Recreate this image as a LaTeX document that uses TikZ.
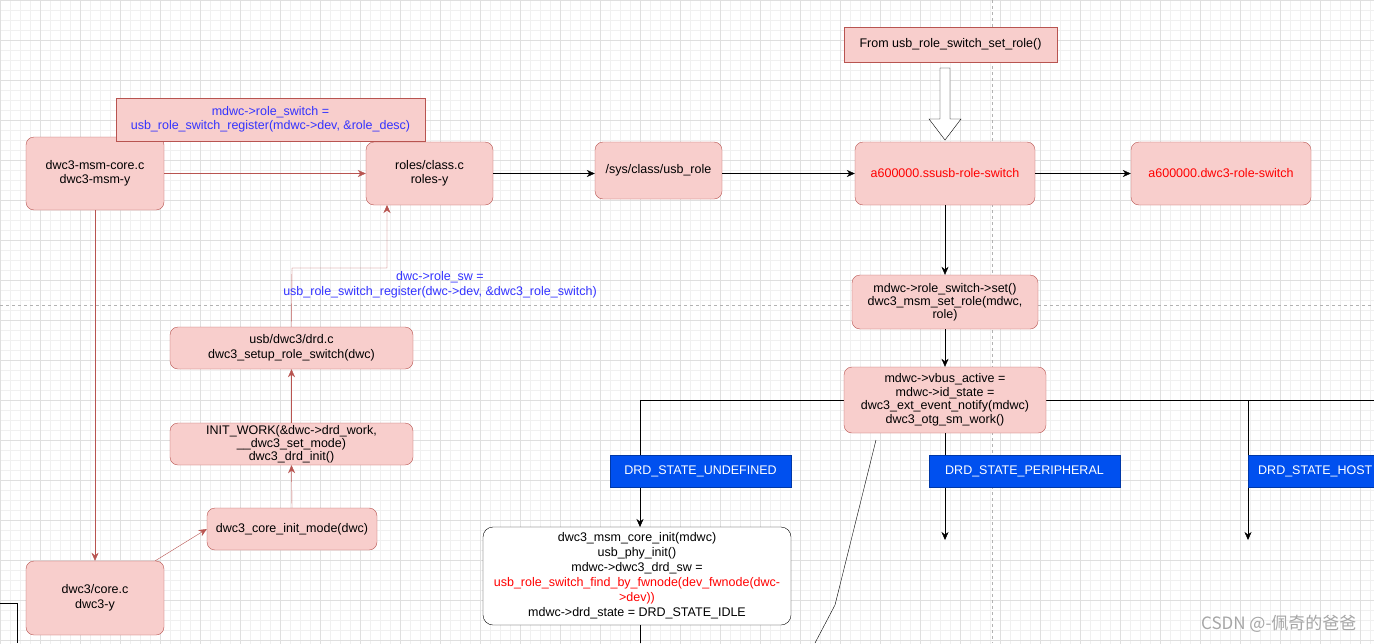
\documentclass[tikz,border=0pt]{standalone}
\usepackage{fontspec}
\setmainfont{Liberation Sans}
\newfontfamily\cjk{Noto Sans CJK SC}
\usetikzlibrary{arrows.meta}
\definecolor{pk}{HTML}{F8CECC}
\definecolor{pkd}{HTML}{B85450}
\definecolor{bl}{HTML}{0050EF}
\definecolor{tb}{HTML}{3333FF}
\begin{document}
\begin{tikzpicture}[x=1pt,y=-1pt,font=\fontsize{12.5}{14.5}\selectfont,
  box/.style={draw=pkd,fill=pk,rounded corners=8pt,align=center,inner sep=0pt},
  sq/.style={draw=pkd,fill=pk,align=center,inner sep=0pt},
  st/.style={draw=bl!70!black,fill=bl,text=white,align=center,inner sep=0pt,minimum height=32pt},
  ra/.style={draw=pkd,-{Stealth[length=8pt,width=7pt]}},
  ba/.style={draw=black,-{Stealth[length=8pt,width=7pt]}}]
\useasboundingbox (0,0) rectangle (1374,643);
\clip (0,0) rectangle (1374,643);
\fill[white] (0,0) rectangle (1374,643);
\draw[gray!12,step=10pt] (0,0) grid (1380,650);
\draw[gray!25,step=40pt] (0,0) grid (1380,650);
\draw[gray!60,dashed] (0,305) -- (1374,305);
\draw[gray!60,dashed] (992,0) -- (992,643);
% nodes
\node[box,minimum width=138pt,minimum height=73pt] (msm) at (95,173.5) {dwc3-msm-core.c\\dwc3-msm-y};
\node[sq,minimum width=309pt,minimum height=43pt,text=tb] (lab) at (270.5,119.5) {mdwc->role\_switch =\\usb\_role\_switch\_register(mdwc->dev, \&role\_desc)};
\node[box,minimum width=127pt,minimum height=63pt] (roles) at (429.5,173.5) {roles/class.c\\roles-y};
\node[box,minimum width=127pt,minimum height=57pt] (sys) at (658.5,170.5) {/sys/class/usb\_role};
\node[box,minimum width=180pt,minimum height=63pt,text=red] (ss) at (945,173.5) {a600000.ssusb-role-switch};
\node[box,minimum width=180pt,minimum height=63pt,text=red] (dr) at (1221,173.5) {a600000.dwc3-role-switch};
\node[sq,minimum width=213pt,minimum height=35pt] (from) at (950.5,44.5) {From usb\_role\_switch\_set\_role()};
\node[box,minimum width=186pt,minimum height=54pt,font=\fontsize{12.5}{13}\selectfont] (set) at (945,302) {mdwc->role\_switch->set()\\dwc3\_msm\_set\_role(mdwc,\\role)};
\draw (640,400) -- (1374,400);
\node[box,minimum width=202pt,minimum height=66pt,font=\fontsize{12.5}{13.5}\selectfont] (vb) at (945,400) {mdwc->vbus\_active =\\mdwc->id\_state =\\dwc3\_ext\_event\_notify(mdwc)\\dwc3\_otg\_sm\_work()};
\node[box,minimum width=243pt,minimum height=42pt] (drd) at (291.5,348) {usb/dwc3/drd.c\\dwc3\_setup\_role\_switch(dwc)};
\node[box,minimum width=243pt,minimum height=42pt,font=\fontsize{12.5}{13}\selectfont] (iw) at (291.5,444) {INIT\_WORK(\&dwc->drd\_work,\\\_\_dwc3\_set\_mode)\\dwc3\_drd\_init()};
\node[box,minimum width=170pt,minimum height=42pt] (ci) at (292,529) {dwc3\_core\_init\_mode(dwc)};
\draw (0,603) -- (17,603) -- (17,643);
\node[box,minimum width=138pt,minimum height=74pt] (core) at (95,598) {dwc3/core.c\\dwc3-y};
\coordinate (j1) at (640,400);
\coordinate (j2) at (1248,400);
\coordinate (e2) at (945,540);
\coordinate (e3) at (1248,540);
\coordinate (b1) at (640,643);
\draw[ba] (j1) -- (640,527);
\draw[ba] (vb.south) -- (e2);
\draw[ba] (j2) -- (e3);
\node[st,minimum width=181pt] (und) at (700.5,471) {DRD\_STATE\_UNDEFINED};
\node[st,minimum width=191pt] (per) at (1024.5,471) {DRD\_STATE\_PERIPHERAL};
\node[st,minimum width=160pt,anchor=west,align=left,text width=150pt,inner xsep=10pt] (host) at (1248,471) {DRD\_STATE\_HOST};
\node[draw=black,fill=white,rounded corners=10pt,minimum width=308pt,minimum height=98pt,align=center,inner sep=0pt,font=\fontsize{12.5}{15}\selectfont] (wb) at (637,576) {dwc3\_msm\_core\_init(mdwc)\\usb\_phy\_init()\\mdwc->dwc3\_drd\_sw =\\\textcolor{red}{usb\_role\_switch\_find\_by\_fwnode(dev\_fwnode(dwc-}\\\textcolor{red}{>dev))}\\mdwc->drd\_state = DRD\_STATE\_IDLE};
\draw (wb.south -| b1) -- (b1);
\draw (876,440) -- (835,605) -- (815,643);
% connectors
\draw[ra] (msm.east) -- (roles.west);
\draw[ba] (roles.east) -- (roles.east -| sys.west);
\draw[ba] (sys.east |- ss.west) -- (ss.west);
\draw[ba] (ss.east) -- (dr.west);
\draw[ba] (ss.south) -- (set.north);
\draw[ba] (set.south) -- (vb.north);
\draw[ra] (msm.south) -- (core.north);
\draw[ra] (core.north east) ++(-9,0) -- (ci.west);
\draw[ra] (ci.north) -- (iw.south);
\draw[ra] (iw.north) -- (drd.south);
\draw[ra] (drd.north) -- (292,268) -- (387,268) -- (387,205);
\node[text=tb,align=center] (lab2) at (440,285) {dwc->role\_sw =\\usb\_role\_switch\_register(dwc->dev, \&dwc3\_role\_switch)};
% hollow arrow
\draw[fill=white] (940,68) -- (950,68) -- (950,119) -- (961,119) -- (945,140) -- (929,119) -- (940,119) -- cycle;
\node[text=gray!70,font=\cjk\fontsize{17}{18}\selectfont,anchor=east] (wm) at (1360,624) {CSDN @-佩奇的爸爸};
\end{tikzpicture}
\end{document}
